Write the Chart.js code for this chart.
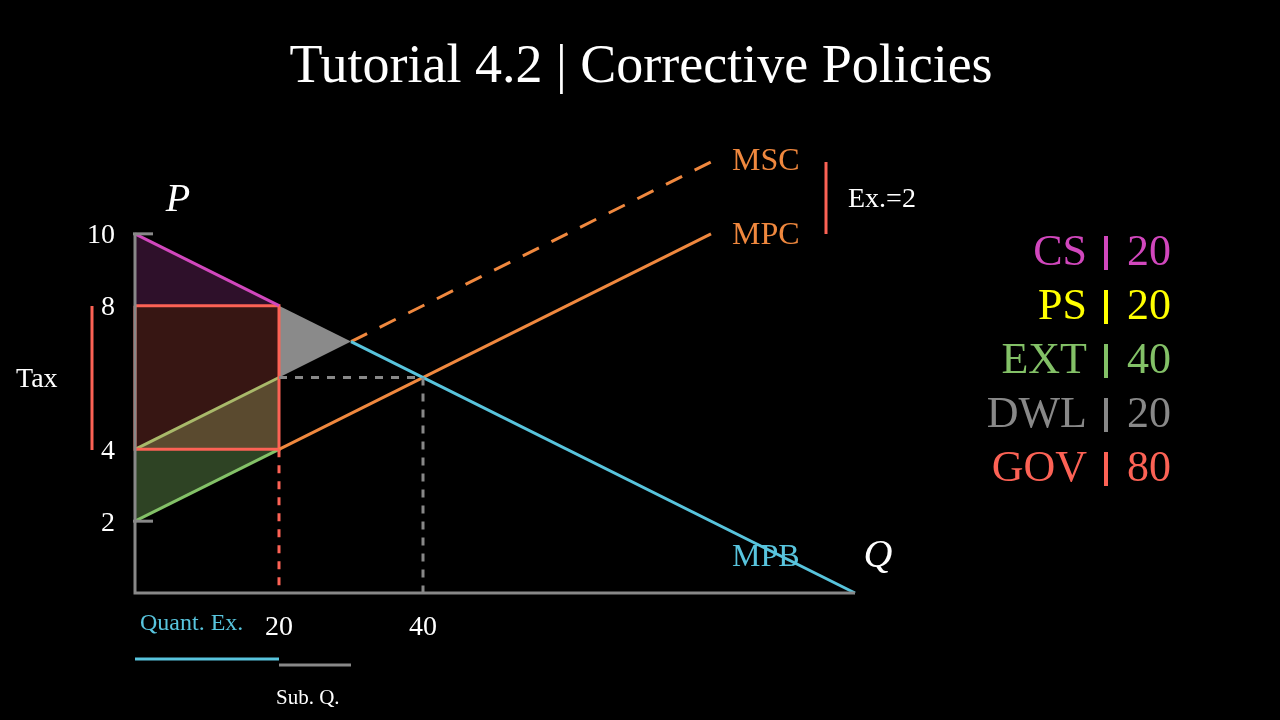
<!DOCTYPE html>
<html>
<head>
<meta charset="utf-8">
<script src="https://cdn.jsdelivr.net/npm/chart.js@4"></script>
<style>
  html, body { margin: 0; background: #000; }
  #wrap { width: 1280px; height: 720px; }
</style>
</head>
<body>
<div id="wrap"><canvas id="chart" width="1280" height="720"></canvas></div>
<script>
(() => {
    /* DATA */
    var yTicks = [10, 8, 4, 2];
    var xTicks = [20, 40];
    var mpbLine = [[30, 7], [100, 0]];
    var mpcLine = [[20, 4], [80, 10]];
    var mscSolid = [[0, 4], [20, 6]];
    var mscDashed = [[30, 7], [80, 12]];
    var psEdge = [[0, 2], [20, 4]];
    var csEdge = [[0, 10], [20, 8]];
    var csArea = [[0, 10], [20, 8], [0, 8], [0, 10]];
    var taxArea = [[0, 8], [20, 8], [20, 4], [0, 4], [0, 8]];
    var extArea = [[0, 2], [20, 4], [20, 6], [0, 4], [0, 2]];
    var dwlArea = [[20, 8], [30, 7], [20, 6], [20, 8]];
    var eqGuide = [[20, 6], [40, 6], [40, 0]];
    var taxGuide = [[20, 4], [20, 0]];
    var legendNames = ['CS', 'PS', 'EXT', 'DWL', 'GOV'];
    var legendValues = [20, 20, 40, 20, 80];
    var legendColors = ['#D147BD', '#FFFF00', '#83C167', '#888888', '#FC6255'];

    var SERIF = '"Liberation Serif", "DejaVu Serif", serif';

    var pts = arr => arr.map(p => ({ x: p[0], y: p[1] }));

    var line = (data, color, extra) => Object.assign({
        data: pts(data), borderColor: color, borderWidth: 3, pointRadius: 0,
        fill: false, tension: 0, clip: false, order: 1
    }, extra || {});

    var area = (data, fillColor, extra) => Object.assign({
        data: pts(data), backgroundColor: fillColor, borderColor: 'rgba(0,0,0,0)',
        borderWidth: 0, pointRadius: 0, fill: 'shape', tension: 0, clip: false, order: 5
    }, extra || {});

    var textPlugin = {
        id: 'texts',
        afterDraw: chart => {
            var ctx = chart.ctx;
            var xs = chart.scales.x, ys = chart.scales.y;
            ctx.save();

            // axes
            ctx.strokeStyle = '#888888';
            ctx.lineWidth = 3;
            ctx.beginPath();
            ctx.moveTo(xs.getPixelForValue(0), ys.getPixelForValue(10));
            ctx.lineTo(xs.getPixelForValue(0), ys.getPixelForValue(0));
            ctx.lineTo(xs.getPixelForValue(100), ys.getPixelForValue(0));
            ctx.stroke();
            [10, 2].forEach(v => {
                ctx.beginPath();
                ctx.moveTo(xs.getPixelForValue(0) - 2, ys.getPixelForValue(v));
                ctx.lineTo(xs.getPixelForValue(0) + 18, ys.getPixelForValue(v));
                ctx.stroke();
            });

            ctx.fillStyle = '#ffffff';
            ctx.font = '54px ' + SERIF;
            ctx.textAlign = 'center';
            ctx.textBaseline = 'middle';
            ctx.fillText('Tutorial 4.2 | Corrective Policies', 641, 68);

            ctx.font = '28px ' + SERIF;
            ctx.textAlign = 'right';
            yTicks.forEach(v => ctx.fillText(String(v), 115, ys.getPixelForValue(v) + 2));
            ctx.textAlign = 'center';
            xTicks.forEach(v => ctx.fillText(String(v), xs.getPixelForValue(v), 628));

            ctx.font = 'italic 40px ' + SERIF;
            ctx.fillText('P', 178, 200);
            ctx.fillText('Q', 878, 556);

            ctx.font = '28px ' + SERIF;
            ctx.textAlign = 'left';
            ctx.fillText('Tax', 16, 380);
            ctx.fillText('Ex.=2', 848, 200);
            ctx.fillStyle = '#F0883E';
            ctx.font = '32px ' + SERIF;
            ctx.fillText('MSC', 732, 162);
            ctx.fillText('MPC', 732, 236);
            ctx.fillStyle = '#58C4DD';
            ctx.fillText('MPB', 732, 558);
            ctx.font = '24px ' + SERIF;
            ctx.fillText('Quant. Ex.', 140, 624);
            ctx.fillStyle = '#ffffff';
            ctx.font = '21px ' + SERIF;
            ctx.fillText('Sub. Q.', 276, 698);

            // brackets
            ctx.lineWidth = 3;
            ctx.strokeStyle = '#FC6255';
            ctx.beginPath(); ctx.moveTo(92, 306); ctx.lineTo(92, 450); ctx.stroke();
            ctx.beginPath(); ctx.moveTo(826, 162); ctx.lineTo(826, 234); ctx.stroke();
            ctx.strokeStyle = '#58C4DD';
            ctx.beginPath(); ctx.moveTo(135, 659); ctx.lineTo(279, 659); ctx.stroke();
            ctx.strokeStyle = '#888888';
            ctx.beginPath(); ctx.moveTo(279, 665); ctx.lineTo(351, 665); ctx.stroke();

            // legend
            ctx.font = '44px ' + SERIF;
            legendNames.forEach((name, i) => {
                var y = 253 + i * 54;
                ctx.fillStyle = legendColors[i];
                ctx.textAlign = 'right';
                ctx.fillText(name, 1087, y);
                ctx.fillRect(1104, y - 17, 4, 34);
                ctx.textAlign = 'left';
                ctx.fillText(String(legendValues[i]), 1127, y);
            });
            ctx.restore();
        }
    };

    new Chart(document.getElementById('chart'), {
        type: 'line',
        data: {
            datasets: [
                area(csArea, 'rgba(209,71,189,0.22)'),
                area(taxArea, 'rgba(252,98,85,0.22)', { order: 6 }),
                area(extArea, 'rgba(131,193,103,0.35)', { order: 7 }),
                area(dwlArea, '#8a8a8a'),
                line(csEdge, '#D147BD', { order: 2 }),
                line(taxArea, '#FC6255', { order: 2 }),
                line(psEdge, '#83C167', { order: 3 }),
                line(mscSolid, '#A9B96A', { order: 3 }),
                line(eqGuide, '#888888', { borderDash: [8, 8] }),
                line(taxGuide, '#FC6255', { borderDash: [8, 8] }),
                line(mpbLine, '#58C4DD'),
                line(mpcLine, '#F0883E'),
                line(mscDashed, '#F0883E', { borderDash: [18, 14] })
            ]
        },
        options: {
            responsive: false,
            animation: false,
            layout: { padding: { left: 135, right: 425, top: 162, bottom: 127 } },
            scales: {
                x: { type: 'linear', min: 0, max: 100, display: false },
                y: { type: 'linear', min: 0, max: 12, display: false }
            },
            plugins: { legend: { display: false }, tooltip: { enabled: false }, title: { display: false } }
        },
        plugins: [textPlugin]
    });
})();
</script>
</body>
</html>
